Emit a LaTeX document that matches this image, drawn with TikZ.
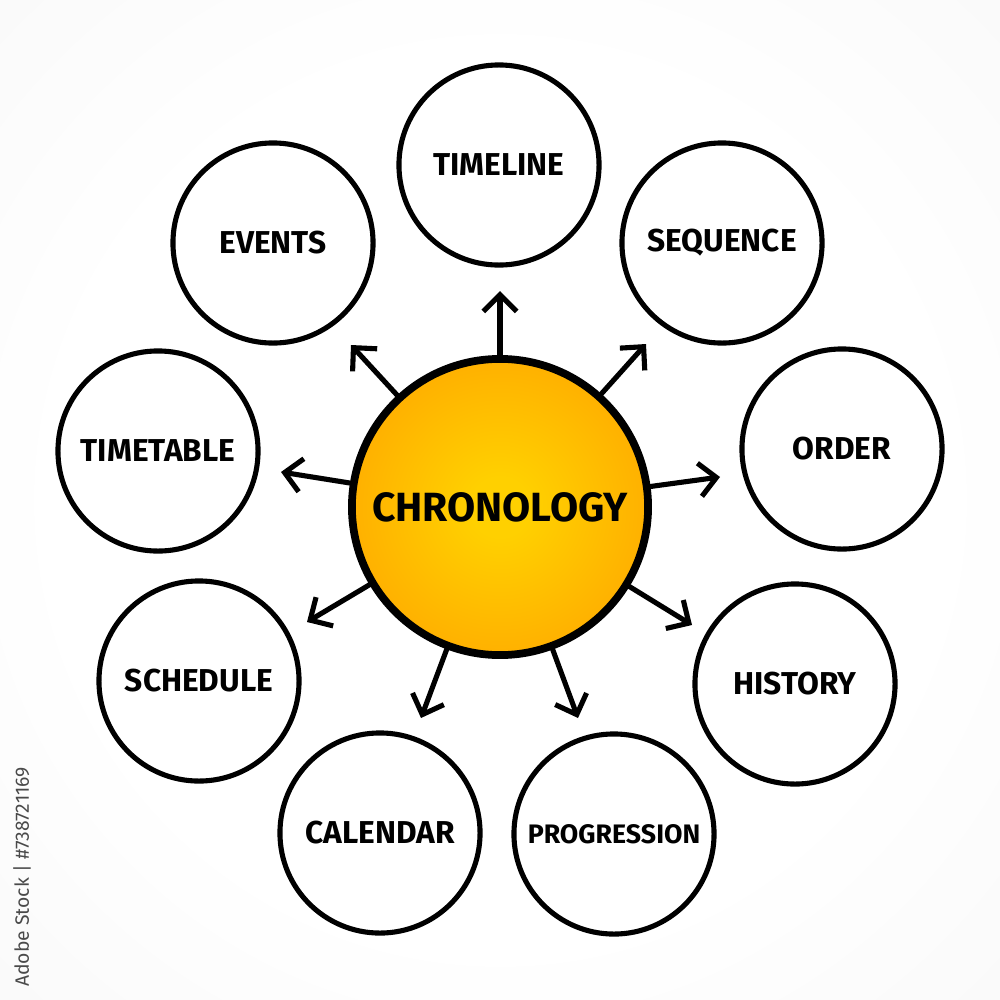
\documentclass[tikz,border=0pt]{standalone}
\usepackage{fontspec}
\setmainfont{Fira Sans}
\usetikzlibrary{arrows.meta}
\definecolor{cY}{HTML}{FFD000}
\definecolor{cO}{HTML}{FF9600}
\definecolor{bgEdge}{HTML}{ECECEC}
\definecolor{wmGray}{HTML}{4A4A4A}
\pgfdeclareradialshading{bgshade}{\pgfpoint{0bp}{0bp}}{color(0bp)=(white); color(22bp)=(white); color(72bp)=(bgEdge)}
\pgfdeclareradialshading{orb}{\pgfpoint{0bp}{0bp}}{color(0bp)=(cY); color(5bp)=(cY); color(42bp)=(cO); color(50bp)=(cO)}
\tikzset{
  topic/.style={circle, draw=black, line width=1.45pt, fill=white, minimum size=2.0cm, inner sep=0pt,
    font=\bfseries\fontsize{9}{10}\selectfont},
  hub/.style={circle, draw=black, line width=2.2pt, shading=orb, minimum size=2.96cm, inner sep=0pt,
    font=\bfseries\fontsize{11.6}{14}\selectfont},
  link/.style={line width=1.45pt, line cap=round, -{Straight Barb[length=4.8pt,width=9.5pt,line width=1.45pt]}},
}
\begin{document}
\begin{tikzpicture}[x=0.01cm,y=-0.01cm]
\useasboundingbox (0,0) rectangle (1000,1000);
\shade[shading=bgshade] (0,0) rectangle (1000,1000);

\node[hub] (c) at (500,507) {CHRONOLOGY};

\node[topic] (timeline) at (499,165) {TIMELINE};
\node[topic] (sequence) at (722,243) {SEQUENCE};
\node[topic] (events) at (273,243) {EVENTS};
\node[topic] (order) at (842,449) {ORDER};
\node[topic] (timetable) at (158,451) {TIMETABLE};
\node[topic] (history) at (795,684) {HISTORY};
\node[topic] (schedule) at (199,681) {SCHEDULE};
\node[topic] (progression) at (614,834) {\fontsize{7.6}{9}\selectfont PROGRESSION};
\node[topic] (calendar) at (380,833) {CALENDAR};

\coordinate (tUp) at (500,291);
\coordinate (tUR) at (646,344);
\coordinate (tR) at (720,477);
\coordinate (tDR) at (692,625);
\coordinate (tD) at (578,718);
\coordinate (tDL) at (421,718);
\coordinate (tLD) at (307,622);
\coordinate (tL) at (281,472);
\coordinate (tUL) at (351,345);

\foreach \t in {tUp,tUR,tR,tDR,tD,tDL,tLD,tL,tUL}
  \draw[link] (c) -- (\t);

\node[rotate=90, text=wmGray, font=\fontsize{5.5}{6}\selectfont, inner sep=0pt] (wm) at (22,877) {Adobe Stock | \#738721169};
\end{tikzpicture}
\end{document}
